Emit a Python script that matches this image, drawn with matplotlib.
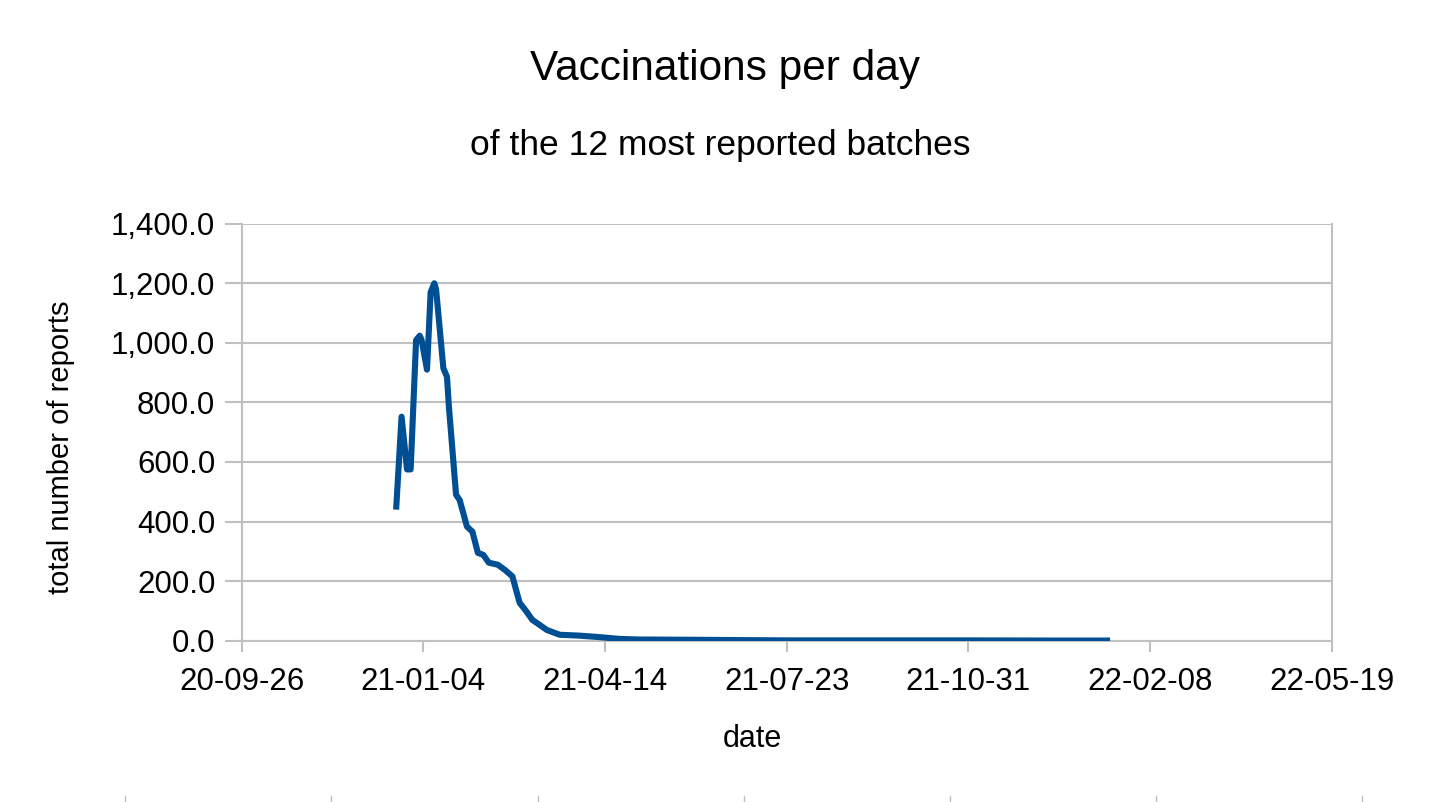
import numpy as np
import matplotlib
matplotlib.use("Agg")
import matplotlib.pyplot as plt
import matplotlib.dates as mdates
from matplotlib.lines import Line2D

plt.rcParams['font.family'] = ['Liberation Sans', 'DejaVu Sans']

dates = ["2020-12-20", "2020-12-23", "2020-12-26", "2020-12-28", "2020-12-31",
         "2021-01-02", "2021-01-03", "2021-01-06", "2021-01-08", "2021-01-10",
         "2021-01-11", "2021-01-15", "2021-01-17", "2021-01-18", "2021-01-22",
         "2021-01-24", "2021-01-28", "2021-01-31", "2021-02-03", "2021-02-06",
         "2021-02-09", "2021-02-14", "2021-02-18", "2021-02-22", "2021-02-26",
         "2021-03-01", "2021-03-05", "2021-03-13", "2021-03-20", "2021-03-31",
         "2021-04-11", "2021-04-22", "2021-05-03", "2021-06-03", "2021-07-23",
         "2021-09-01", "2021-10-31", "2021-12-15", "2022-01-17"]
reports = [440, 752, 575, 575, 1009,
           1024, 1010, 910, 1170, 1200,
           1180, 915, 886, 790, 490,
           472, 383, 366, 295, 288,
           262, 255, 237, 216, 127,
           104, 70, 36, 20, 17,
           12, 6, 4, 3, 1,
           1, 1, 0.5, 0.5]

tick_dates = ["2020-09-26", "2021-01-04", "2021-04-14", "2021-07-23",
              "2021-10-31", "2022-02-08", "2022-05-19"]
y_ticks = [0, 200, 400, 600, 800, 1000, 1200, 1400]

x = np.array(dates, dtype="datetime64[D]")
xt = np.array(tick_dates, dtype="datetime64[D]")

fig = plt.figure(figsize=(14.5, 8.02), dpi=100)
ax = fig.add_axes([241.7/1450, 1-640.7/802, (1331.7-241.7)/1450, (640.7-223.7)/802])

grid_c = "#c0c0c0"
ax.plot(x, reports, color="#004f94", lw=4.4, solid_joinstyle="round",
        solid_capstyle="butt", zorder=3)

ax.set_xlim(xt[0], xt[-1])
ax.set_ylim(0, 1400)
ax.set_xticks(xt)
ax.xaxis.set_major_formatter(mdates.DateFormatter("%y-%m-%d"))
ax.set_yticks(y_ticks)
ax.set_yticklabels([f"{v:,.1f}" for v in y_ticks])
ax.yaxis.grid(True, color=grid_c, lw=1.5)
ax.set_axisbelow(True)
for s in ["left", "bottom", "right"]:
    ax.spines[s].set_color(grid_c)
    ax.spines[s].set_linewidth(1.5)
ax.spines["top"].set_visible(False)
ax.tick_params(axis="both", colors=grid_c, labelcolor="black", labelsize=22.5,
               width=1.5)
ax.tick_params(axis="x", length=8, pad=11)
ax.tick_params(axis="y", length=12, pad=7)

fig.text(725/1450, 1-80/802, "Vaccinations per day", ha="center", va="baseline",
         fontsize=30.5)
fig.text(720/1450, 1-155/802, "of the 12 most reported batches", ha="center",
         va="baseline", fontsize=25.5)
fig.text(752.5/1450, 1-746.7/802, "date", ha="center", va="baseline", fontsize=22)
fig.text(61/1450, 1-447/802, "total number of reports", ha="center", va="center",
         rotation=90, fontsize=21)

for px in [125, 331, 538, 744, 950, 1156, 1362]:
    fig.add_artist(Line2D([px/1450, px/1450], [1-796/802, 1-801/802],
                          transform=fig.transFigure, color=grid_c, lw=1))

fig.savefig("out.png", dpi=100)
